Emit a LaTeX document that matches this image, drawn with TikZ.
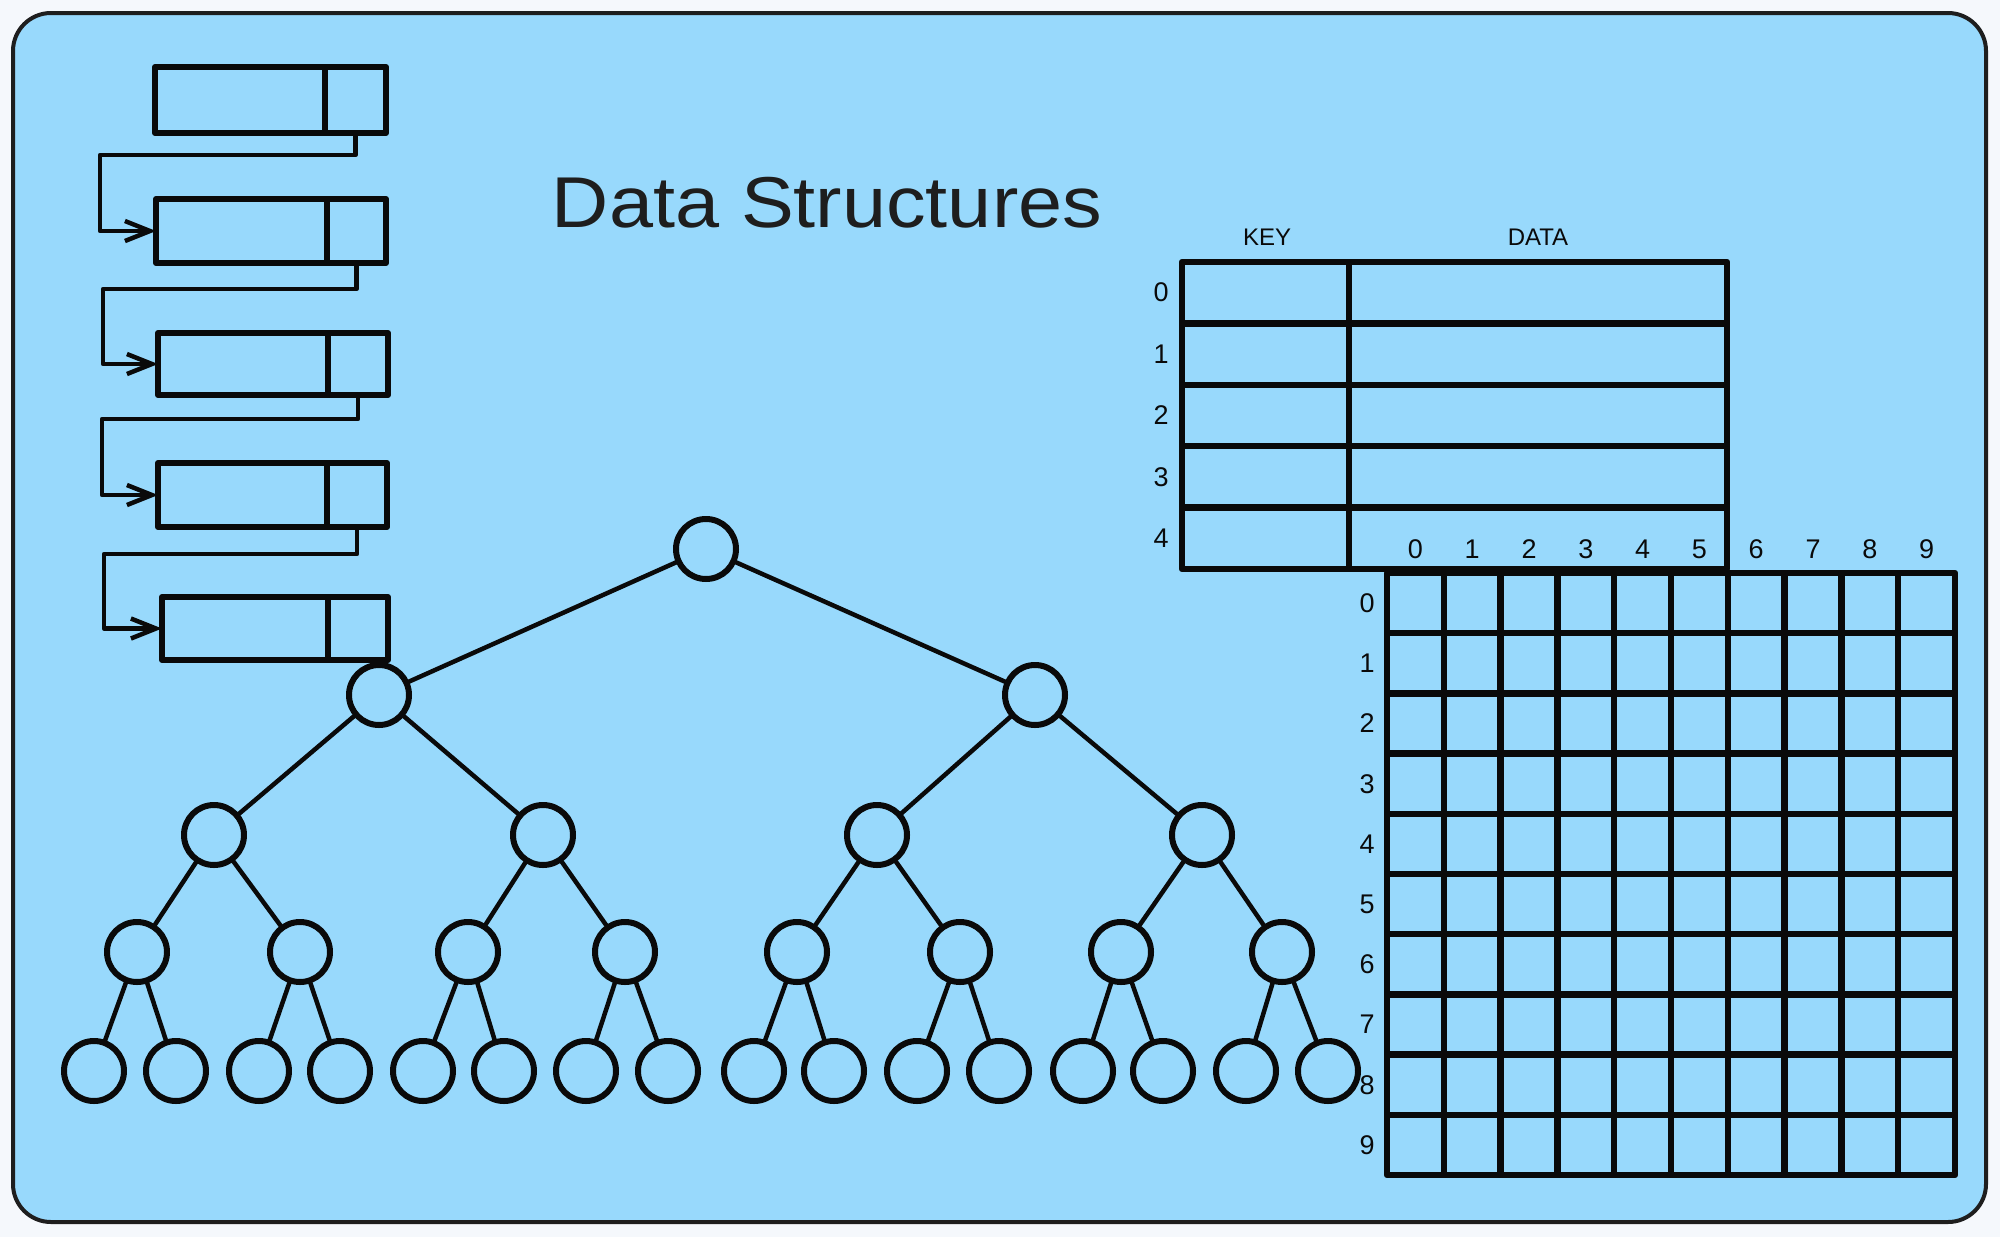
\documentclass[tikz,border=0pt]{standalone}
\usepackage{fontspec}
\setmainfont{Liberation Sans}
\usetikzlibrary{arrows.meta}
\definecolor{ink}{HTML}{0A0A0A}
\definecolor{frame}{HTML}{1E1E1E}
\definecolor{sky}{HTML}{98D9FC}
\definecolor{paper}{HTML}{F5F8FC}
\begin{document}
\begin{tikzpicture}[x=1pt,y=-1pt,line cap=round,line join=round,
  cellbox/.style={draw=ink,line width=6pt,rectangle,inner sep=0pt,outer sep=0pt},
  gridcell/.style={draw=ink,line width=6.5pt,rectangle,inner sep=0pt,outer sep=0pt,
    minimum width=56.8pt,minimum height=60.2pt,anchor=north west},
  tnode/.style={draw=ink,line width=6pt,circle,inner sep=0pt,minimum size=60pt},
  tedge/.style={draw=ink,line width=4.5pt},
  link/.style={draw=ink,line width=4.5pt,-{Straight Barb[length=25pt,width=20pt]}},
  lbl/.style={text=ink,font=\fontsize{27}{30}\selectfont,inner sep=0pt},
  hdr/.style={text=ink,font=\fontsize{24}{28}\selectfont,inner sep=0pt}
]
\useasboundingbox (0,0) rectangle (2000,1237);
\fill[paper] (0,0) rectangle (2000,1237);
\draw[frame,line width=4pt,fill=sky,rounded corners=38pt] (13,13) rectangle (1986,1222);

% title
\node[text=frame,font=\fontsize{72}{80}\selectfont,anchor=base,inner sep=0pt,xscale=1.1] (title) at (827,227) {Data Structures};

% linked list
\foreach \i/\xl/\xm/\xr/\yt/\yb in {1/155/325/386/67/133,2/156/327/386/199/263,3/158/328/388/333/395,4/158/327/387/463/527,5/162/328/388/597/660}{
  \node[cellbox,anchor=north west,minimum width={(\xm-\xl)*1pt},minimum height={(\yb-\yt)*1pt}] (v\i) at (\xl,\yt) {};
  \node[cellbox,anchor=north west,minimum width={(\xr-\xm)*1pt},minimum height={(\yb-\yt)*1pt}] (p\i) at (\xm,\yt) {};
}
\coordinate (c1) at (100,155);
\coordinate (c2) at (103,289);
\coordinate (c3) at (102,419);
\coordinate (c4) at (104,554);
\draw[link] (p1.south) |- (c1) |- (v2.west);
\draw[link] (p2.south) |- (c2) |- (v3.west);
\draw[link] (p3.south) |- (c3) |- (v4.west);
\draw[link] (p4.south) |- (c4) |- (v5.west);

% hash table
\node[hdr] (keyh) at (1267,237) {KEY};
\node[hdr] (datah) at (1538,237) {DATA};
\foreach \r in {0,...,4}{
  \node[cellbox,line width=6.5pt,anchor=north west,minimum width=167pt,minimum height=61.4pt] (k\r) at (1182,{262+61.4*\r}) {};
  \node[cellbox,line width=6.5pt,anchor=north west,minimum width=378pt,minimum height=61.4pt] (d\r) at (1349,{262+61.4*\r}) {};
  \node[lbl] (hr\r) at (1161,{292.7+61.4*\r}) {\r};
}

% 2D grid
\foreach \r in {0,...,9}{
  \foreach \c in {0,...,9}{
    \node[gridcell] (g-\r-\c) at ({1387+56.8*\c},{573+60.2*\r}) {};
  }
  \node[lbl] (gr\r) at (1367,{603.1+60.2*\r}) {\r};
  \node[lbl] (gc\r) at ({1415.4+56.8*\r},549) {\r};
}

% tree
\node[tnode] (n0-1) at (706,549) {};
\node[tnode] (n1-1) at (379,695) {};
\node[tnode] (n1-2) at (1035,695) {};
\foreach \x [count=\j] in {214,543,877,1202}{
  \node[tnode] (n2-\j) at (\x,835) {};
}
\foreach \x [count=\j] in {137,300,468,625,797,960,1121,1282}{
  \node[tnode] (n3-\j) at (\x,952) {};
}
\foreach \x [count=\j] in {94,176,259,340,423,504,586,668,754,834,917,999,1083,1163,1246,1328}{
  \node[tnode] (n4-\j) at (\x,1071) {};
}
\draw[tedge] (n0-1) -- (n1-1);
\draw[tedge] (n0-1) -- (n1-2);
\foreach \j in {1,...,4}{
  \pgfmathtruncatemacro\p{(\j+1)/2}
  \draw[tedge] (n1-\p) -- (n2-\j);
}
\foreach \j in {1,...,8}{
  \pgfmathtruncatemacro\p{(\j+1)/2}
  \draw[tedge] (n2-\p) -- (n3-\j);
}
\foreach \j in {1,...,16}{
  \pgfmathtruncatemacro\p{(\j+1)/2}
  \draw[tedge] (n3-\p) -- (n4-\j);
}
\end{tikzpicture}
\end{document}
